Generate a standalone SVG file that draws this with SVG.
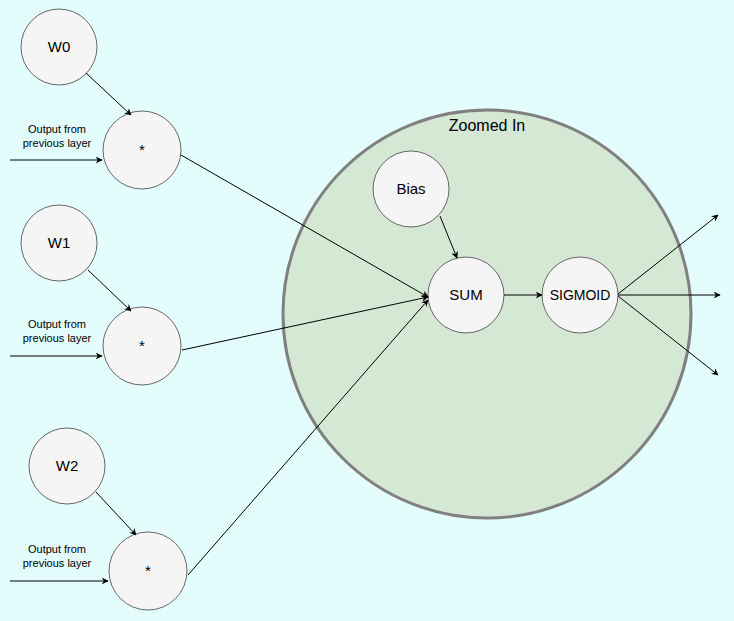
<svg xmlns="http://www.w3.org/2000/svg" width="734" height="621" viewBox="0 0 734 621">
<defs>
<marker id="a" viewBox="0 0 10 10" refX="9" refY="5" markerWidth="7" markerHeight="7" orient="auto" markerUnits="userSpaceOnUse"><path d="M0,0 L10,5 L0,10 L3,5 Z" fill="#000"/></marker>
<style>
.n{fill:#f5f5f5;stroke:#666;stroke-width:1}
.t{font-family:"Liberation Sans",Arial,sans-serif;font-size:15px;text-anchor:middle;fill:#000}
.s{font-family:"Liberation Sans",Arial,sans-serif;font-size:11px;text-anchor:middle;fill:#000}
.c line{stroke:#000;stroke-width:1;marker-end:url(#a)}
</style>
</defs>
<rect width="734" height="621" fill="#e3fdfd"/>
<g id="zoom"><circle cx="487" cy="314" r="204" fill="#d5e8d4" stroke="#808080" stroke-width="3"/><text class="t" x="487" y="131" style="font-size:16px">Zoomed In</text></g>
<g id="w0"><circle class="n" cx="59" cy="47" r="38"/><text class="t" x="59" y="52">W0</text></g>
<g id="m0"><circle class="n" cx="142" cy="150" r="39"/><text class="t" x="142" y="155">*</text></g>
<g id="w1"><circle class="n" cx="59" cy="243" r="38"/><text class="t" x="59" y="248">W1</text></g>
<g id="m1"><circle class="n" cx="142" cy="346" r="39"/><text class="t" x="142" y="351">*</text></g>
<g id="w2"><circle class="n" cx="67" cy="466" r="38"/><text class="t" x="67" y="471">W2</text></g>
<g id="m2"><circle class="n" cx="148" cy="571" r="39"/><text class="t" x="148" y="576">*</text></g>
<g id="bias"><circle class="n" cx="411" cy="189" r="38"/><text class="t" x="411" y="194">Bias</text></g>
<g id="sum"><circle class="n" cx="466" cy="295" r="38"/><text class="t" x="466" y="300">SUM</text></g>
<g id="sig"><circle class="n" cx="580" cy="295" r="38"/><text class="t" x="580" y="300" style="font-size:14px">SIGMOID</text></g>
<g id="labels">
<text class="s" x="57" y="133">Output from</text><text class="s" x="57" y="147">previous layer</text>
<text class="s" x="57" y="328">Output from</text><text class="s" x="57" y="342">previous layer</text>
<text class="s" x="57" y="553">Output from</text><text class="s" x="57" y="567">previous layer</text>
</g>
<g class="c">
<line x1="10" y1="160" x2="102" y2="160"/>
<line x1="10" y1="356" x2="102" y2="356"/>
<line x1="10" y1="581" x2="108" y2="581"/>
<line x1="86" y1="73" x2="131" y2="115"/>
<line x1="88" y1="270" x2="131" y2="311"/>
<line x1="96" y1="492" x2="136" y2="535"/>
<line x1="181" y1="155" x2="428" y2="297"/>
<line x1="182" y1="350" x2="428" y2="297"/>
<line x1="188" y1="575" x2="428" y2="300"/>
<line x1="440" y1="216" x2="457" y2="258"/>
<line x1="504" y1="295" x2="542" y2="295"/>
<line x1="618" y1="294" x2="718" y2="215"/>
<line x1="618" y1="295" x2="720" y2="295"/>
<line x1="618" y1="296" x2="718" y2="375"/>
</g>
</svg>
